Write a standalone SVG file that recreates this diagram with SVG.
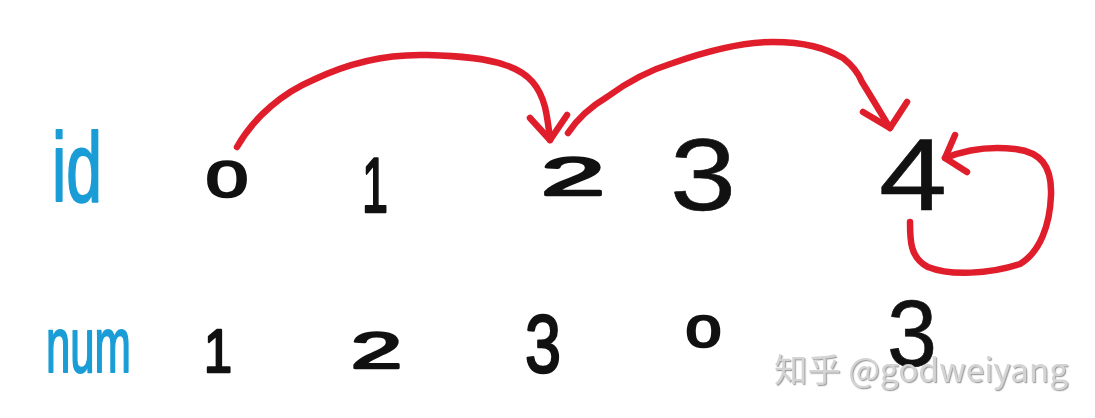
<svg xmlns="http://www.w3.org/2000/svg" width="1095" height="418" viewBox="0 0 1095 418">
<defs>
<style>
.lbl{font-family:"Liberation Sans","DejaVu Sans",sans-serif;fill:#1a9dd6;stroke:#1a9dd6;stroke-width:2;stroke-linejoin:round}
.dg{font-family:"Liberation Sans","DejaVu Sans",sans-serif;fill:#111;stroke:#111;stroke-width:2.5;stroke-linejoin:round}
.big{stroke-width:0.6}
.arr{fill:none;stroke:#e01e2b;stroke-width:6.5;stroke-linecap:round;stroke-linejoin:round}
.wm{font-family:"Noto Sans CJK SC","Noto Sans",sans-serif;fill:#d4d4d4;font-size:33px}
</style>
<filter id="sh" x="-5%" y="-20%" width="110%" height="140%">
<feDropShadow dx="1.2" dy="1.2" stdDeviation="0.6" flood-color="#8a8a8a" flood-opacity="0.8"/>
</filter>
</defs>
<rect width="1095" height="418" fill="#ffffff"/>
<g id="label-id"><text class="lbl" x="52" y="201" font-size="98" textLength="50" lengthAdjust="spacingAndGlyphs">id</text></g>
<g id="label-num"><text class="lbl" x="46" y="372" font-size="77" textLength="85" lengthAdjust="spacingAndGlyphs">num</text></g>
<g id="id0"><text class="dg" x="206" y="197" font-size="50" textLength="42" lengthAdjust="spacingAndGlyphs">0</text></g>
<g id="id1"><text class="dg" x="362" y="212" font-size="77" textLength="26" lengthAdjust="spacingAndGlyphs">1</text></g>
<g id="id2"><text class="dg" x="541" y="195" font-size="53" textLength="64" lengthAdjust="spacingAndGlyphs">2</text></g>
<g id="id3"><text class="dg big" x="670" y="210" font-size="102" textLength="66" lengthAdjust="spacingAndGlyphs">3</text></g>
<g id="id4"><text class="dg big" x="879" y="210" font-size="102" textLength="68" lengthAdjust="spacingAndGlyphs">4</text></g>
<g id="num0"><text class="dg" x="204" y="372" font-size="61" textLength="28" lengthAdjust="spacingAndGlyphs">1</text></g>
<g id="num1"><text class="dg" x="351" y="368" font-size="50" textLength="51" lengthAdjust="spacingAndGlyphs">2</text></g>
<g id="num2"><text class="dg" x="525" y="372" font-size="82" textLength="36" lengthAdjust="spacingAndGlyphs">3</text></g>
<g id="num3"><text class="dg" x="686" y="347" font-size="45" textLength="35" lengthAdjust="spacingAndGlyphs">0</text></g>
<g id="num4"><text class="dg big" x="887" y="366" font-size="94" textLength="50" lengthAdjust="spacingAndGlyphs">3</text></g>
<g id="connectors">
<path class="arr" d="M237,147 C255,115 285,92 313,80 C350,62 390,54 427,55 C460,56 485,58 505,65 C530,73 540,88 545,107 C548,120 549,130 550,140"/>
<path class="arr" d="M530,118 L550,140 L567,115"/>
<path class="arr" d="M568,133 C578,118 590,107 607,97 C630,80 650,70 673,63 C710,50 745,42 773,42 C805,42 825,48 843,58 C852,65 858,72 862,82 C872,98 882,115 890,128"/>
<path class="arr" d="M863,112 L890,128 L907,102"/>
<path class="arr" d="M910,222 C910,240 910,258 928,267 C950,276 990,274 1020,264 C1040,252 1050,225 1051,195 C1052,165 1040,152 1015,149 C990,146 965,150 945,158"/>
<path class="arr" d="M955,135 L945,158 L967,172"/>
</g>
<g id="watermark" filter="url(#sh)"><text class="wm" x="774" y="382" textLength="294" lengthAdjust="spacingAndGlyphs">知乎 @godweiyang</text></g>
</svg>
